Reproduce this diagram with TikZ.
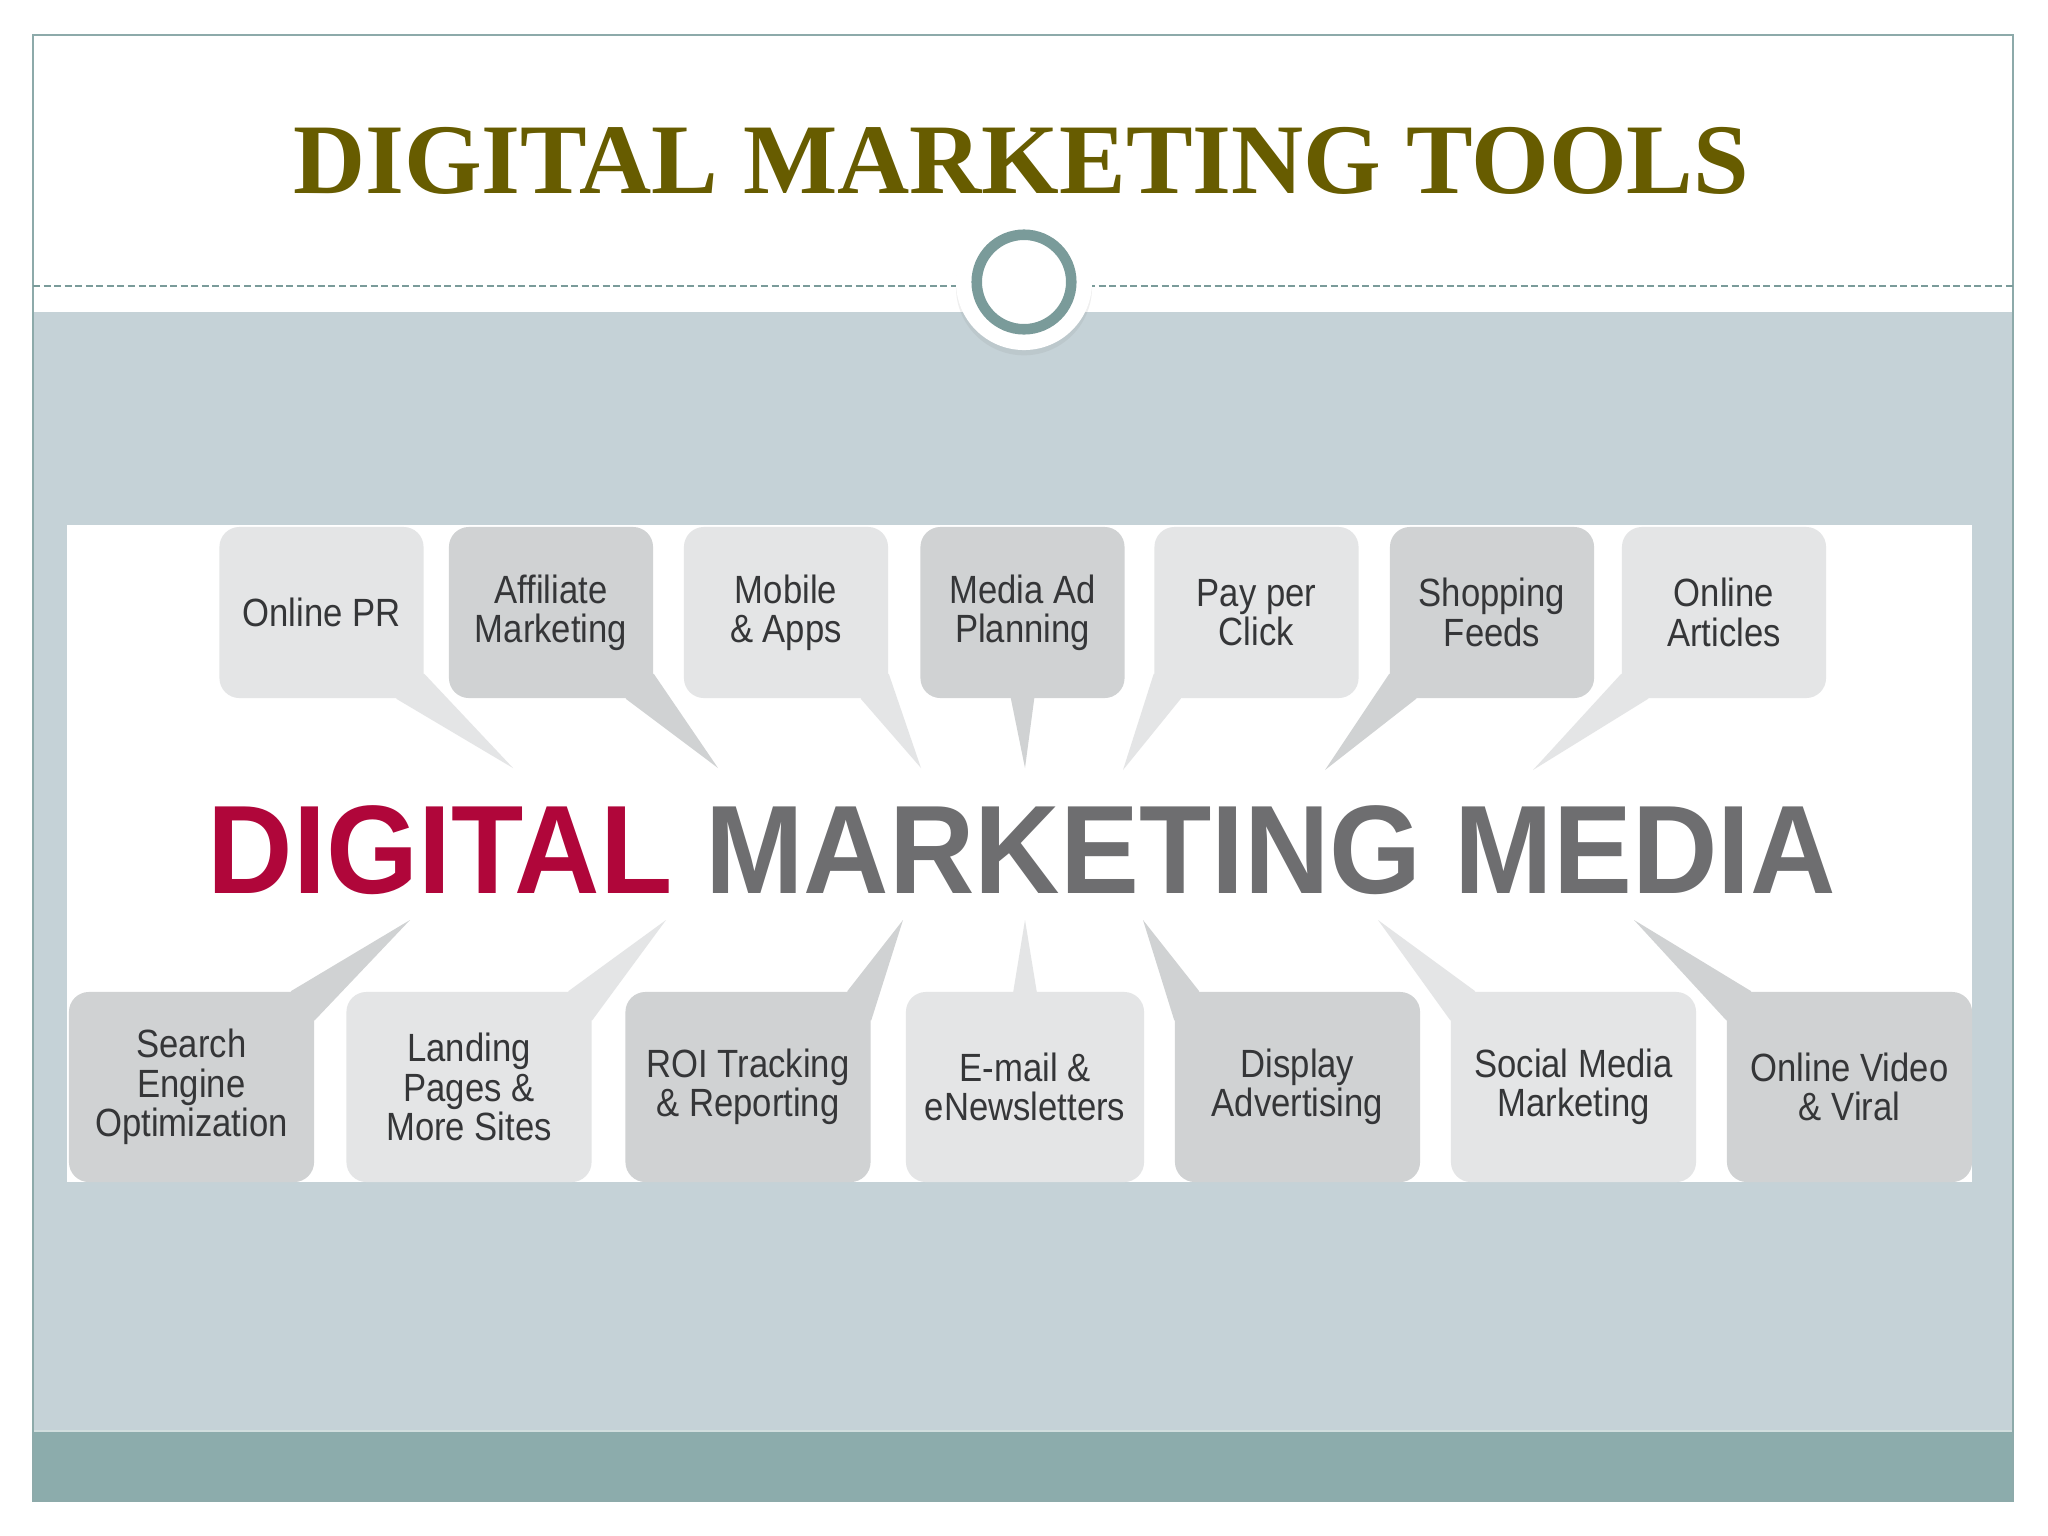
\documentclass[tikz,border=0pt]{standalone}
\usepackage{fontspec}
\setmainfont{Liberation Sans}
\newfontfamily\titlefont{Liberation Serif}
\newfontfamily\bubblefont{Liberation Sans}[FakeStretch=0.88]
\usetikzlibrary{calc,shadows}
\definecolor{band}{HTML}{C5D2D7}
\definecolor{foot}{HTML}{8CACAC}
\definecolor{frame}{HTML}{8DAAAA}
\definecolor{ring}{HTML}{7A9B9A}
\definecolor{boxlight}{HTML}{E4E5E6}
\definecolor{boxdark}{HTML}{D0D2D3}
\definecolor{bubtext}{HTML}{353638}
\definecolor{mainred}{HTML}{B0063A}
\definecolor{maingray}{HTML}{6E6E70}
\definecolor{olive}{HTML}{675C00}
\tikzset{
  bubble/.style={rectangle,rounded corners=0.2cm,inner sep=0pt,align=center,
    text=bubtext,font=\bubblefont\fontsize{11.2}{11.2}\selectfont},
  topbox/.style={bubble,minimum width=2.04cm,minimum height=1.71cm},
  lowbox/.style={bubble,minimum width=2.45cm,minimum height=1.9cm},
  light/.style={fill=boxlight},
  dark/.style={fill=boxdark}
}

\begin{document}
\begin{tikzpicture}[x=0.01cm,y=-0.01cm]
  \useasboundingbox (0,0) rectangle (2048,1536);
  \fill[white] (0,0) rectangle (2048,1536);

  % slide background
  \fill[band] (33,312) rectangle (2013,1430);
  \fill[foot] (33,1430) rectangle (2013,1501);
  \draw[white!60!foot,line width=0.6pt] (33,1431) -- (2013,1431);
  \draw[frame,line width=0.6pt] (33,35) rectangle (2013,1501);
  \draw[ring,line width=0.6pt,dash pattern=on 2pt off 1pt] (33,286) -- (2013,286);

  \fill[white,drop shadow={shadow xshift=0pt,shadow yshift=-1.5pt,opacity=0.12}]
    (1024,282) circle (0.68cm);
  \draw[ring,line width=3pt] (1024,282) circle (0.4725cm);

  \node[anchor=base,text=olive,font=\titlefont\bfseries\fontsize{28.4}{30}\selectfont]
    (title) at (1021,193) {DIGITAL MARKETING TOOLS};

  % picture panel
  \fill[white] (67,525) rectangle (1972,1182);

  \node[anchor=base,font=\bfseries\fontsize{35.8}{38}\selectfont] (media) at (1022,893)
    {\scalebox{0.94}[1]{\textcolor{mainred}{DIGITAL} \textcolor{maingray}{MARKETING MEDIA}}};

  % upper bubbles
  \node[topbox,light] (pr) at (321.5,612.5) {Online PR};
  \node[topbox,dark]  (af) at (551,612.5) {Affiliate\\Marketing};
  \node[topbox,light] (mo) at (786,612.5) {Mobile\\\& Apps};
  \node[topbox,dark]  (ma) at (1022.5,612.5) {Media Ad\\Planning};
  \node[topbox,light] (pc) at (1256.5,612.5) {Pay per\\Click};
  \node[topbox,dark]  (sf) at (1492,612.5) {Shopping\\Feeds};
  \node[topbox,light] (oa) at (1724,612.5) {Online\\Articles};

  % lower bubbles
  \node[lowbox,dark]  (seo) at (191.5,1087) {Search\\Engine\\Optimization};
  \node[lowbox,light] (lp)  at (469,1087) {Landing\\Pages \&\\More Sites};
  \node[lowbox,dark]  (roi) at (748,1087) {ROI Tracking\\\& Reporting};
  \node[lowbox,light,minimum width=2.38cm] (em) at (1025,1087) {E-mail \&\\eNewsletters};
  \node[lowbox,dark]  (da)  at (1297.5,1087) {Display\\Advertising};
  \node[lowbox,light] (sm)  at (1573.5,1087) {Social Media\\Marketing};
  \node[lowbox,dark]  (ov)  at (1849.5,1087) {Online Video\\\& Viral};

  % tail tips
  \coordinate (tpr) at (513,768);
  \coordinate (taf) at (718,768);
  \coordinate (tmo) at (921,768);
  \coordinate (tma) at (1025,768);
  \coordinate (tpc) at (1123,770);
  \coordinate (tsf) at (1325,770);
  \coordinate (toa) at (1533,770);
  \coordinate (tseo) at (410,920);
  \coordinate (tlp) at (666,920);
  \coordinate (troi) at (903,920);
  \coordinate (tem) at (1025,920);
  \coordinate (tda) at (1143,920);
  \coordinate (tsm) at (1378,920);
  \coordinate (tov) at (1634,920);

  \foreach \b/\c in {pr/boxlight,af/boxdark,mo/boxlight}
    \fill[\c] ($(\b.south east)+(-28,0)$) -- (t\b) -- ($(\b.south east)+(0,-25)$)
      -- ($(\b.south east)+(-28,-25)$) -- cycle;
  \foreach \b/\c in {pc/boxlight,sf/boxdark,oa/boxlight}
    \fill[\c] ($(\b.south west)+(27,0)$) -- (t\b) -- ($(\b.south west)+(0,-25)$)
      -- ($(\b.south west)+(27,-25)$) -- cycle;
  \foreach \b/\c in {seo/boxdark,lp/boxlight,roi/boxdark}
    \fill[\c] ($(\b.north east)+(-24,0)$) -- (t\b) -- ($(\b.north east)+(0,29)$)
      -- ($(\b.north east)+(-24,29)$) -- cycle;
  \foreach \b/\c in {da/boxdark,sm/boxlight,ov/boxdark}
    \fill[\c] ($(\b.north west)+(25,0)$) -- (t\b) -- ($(\b.north west)+(0,29)$)
      -- ($(\b.north west)+(25,29)$) -- cycle;
  \fill[boxdark] ($(ma.south)+(-12,-2)$) -- (tma) -- ($(ma.south)+(12,-2)$) -- cycle;
  \fill[boxlight] ($(em.north)+(-12,2)$) -- (tem) -- ($(em.north)+(12,2)$) -- cycle;
\end{tikzpicture}
\end{document}
